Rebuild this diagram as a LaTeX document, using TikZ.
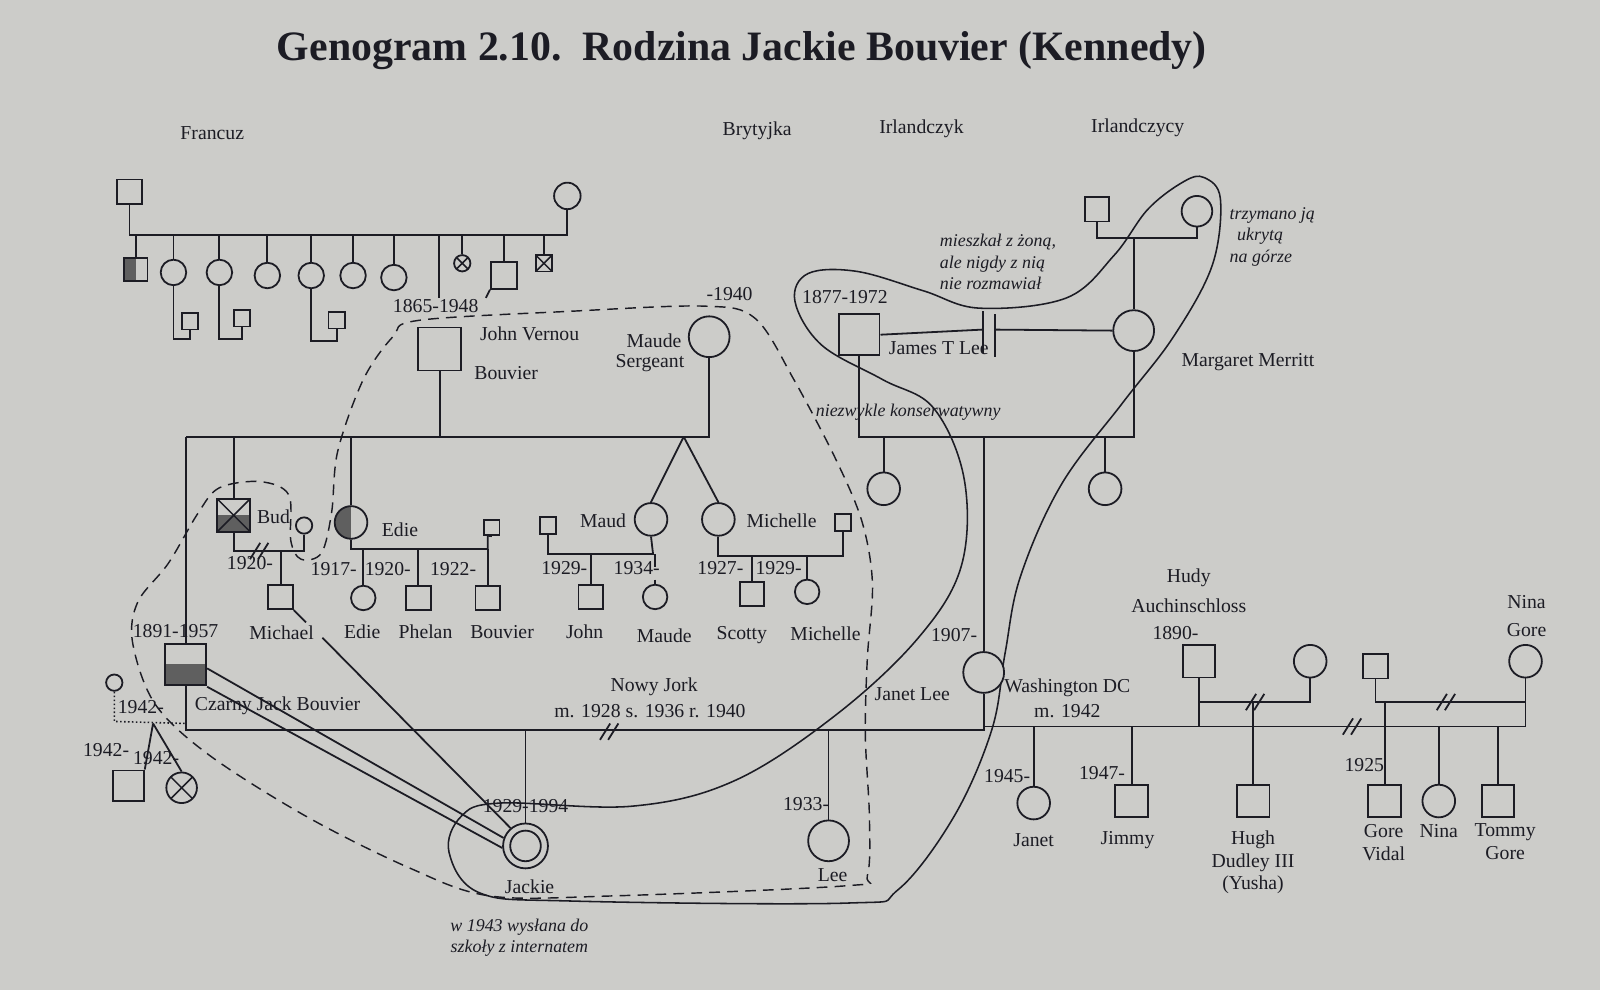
\documentclass[tikz,border=0pt]{standalone}
\usepackage{fontspec}
\setmainfont{Liberation Serif}
\usetikzlibrary{calc}
\definecolor{bgc}{RGB}{204,204,201}
\definecolor{ink}{RGB}{28,28,36}
\definecolor{shd}{RGB}{95,95,95}
\newcommand\divmark[2]{\draw[ink,line width=1.5pt] (#1-9,#2+8)--(#1+1,#2-8) (#1-1,#2+8)--(#1+9,#2-8);}
\tikzset{
  every node/.style={text=ink,font=\fontsize{16.5}{19}\selectfont},
  sq/.style={draw=ink,line width=1.5pt,minimum size=#1*0.3mm,inner sep=0,fill=bgc},
  ci/.style={draw=ink,line width=1.5pt,circle,minimum size=#1*0.3mm,inner sep=0,fill=bgc},
  xmark/.style={path picture={\draw[ink,line width=1.3pt] (path picture bounding box.south west)--(path picture bounding box.north east) (path picture bounding box.north west)--(path picture bounding box.south east);}},
  lefthalf/.style={path picture={\fill[shd] (path picture bounding box.south west) rectangle (path picture bounding box.north);}},
  bothalf/.style={path picture={\fill[shd] (path picture bounding box.south west) rectangle (path picture bounding box.east);}},
  botx/.style={path picture={\fill[shd] (path picture bounding box.south west) rectangle (path picture bounding box.east);
     \draw[ink,line width=1.3pt] (path picture bounding box.south west)--(path picture bounding box.north east) (path picture bounding box.north west)--(path picture bounding box.south east);}},
  ln/.style={draw=ink,line width=1.5pt},
  note/.style={font=\fontsize{15}{18}\selectfont\itshape,align=left},
}
\begin{document}
\begin{tikzpicture}[x=0.3mm,y=-0.3mm]
\fill[bgc] (0,0) rectangle (1568,970);
\useasboundingbox (0,0) rectangle (1568,970);

\node[font=\fontsize{35}{40}\selectfont\bfseries] (title) at (727,50) {Genogram 2.10.\ \ Rodzina Jackie Bouvier (Kennedy)};
\node (fr) at (208,130) {Francuz};
\node (br) at (742,128) {Brytyjka};
\node (ir) at (903,126) {Irlandczyk};
\node (irs) at (1115,125) {Irlandczycy};

% lasso curves
\draw[ink,line width=1.3pt] plot[smooth cycle,tension=0.6] coordinates {(1180,174) (1196,195) (1188,260) (1150,330) (1100,395) (1040,475) (1000,565) (985,640) (972,715) (935,800) (880,872) (830,885) (560,883) (470,875) (440,835) (452,800) (490,787) (620,790) (720,765) (820,700) (900,625) (942,555) (945,470) (915,400) (865,372) (805,338) (779,295) (792,268) (840,266) (905,285) (960,302) (1045,292) (1092,250) (1125,205) (1160,178)};
\draw[ink,line width=1.2pt,dashed,dash pattern=on 9pt off 6pt] plot[smooth cycle,tension=0.55] coordinates {(410,314) (560,305) (690,300) (740,312) (778,372) (820,452) (845,512) (855,572) (850,645) (848,720) (852,800) (850,858) (830,868) (600,878) (480,878) (400,850) (300,800) (205,740) (152,690) (130,630) (135,590) (165,552) (194,503) (215,478) (255,472) (283,485) (285,530) (295,548) (315,542) (325,502) (331,442) (356,372) (385,330)};

% top family
\node[sq=24] (gf) at (127,188) {};
\node[ci=26] (gm) at (556,192) {};
\coordinate (sl) at (127,230);
\draw[ln] (gf.south) -- (sl) -- (556,230) -- (gm.south);
\node[sq=23,lefthalf] (c1) at (133,264) {};
\node[ci=25] (c2) at (170,267) {};
\node[ci=25] (c3) at (215,267) {};
\node[ci=25] (c4) at (262,270) {};
\node[ci=25] (c5) at (305,270) {};
\node[ci=25] (c6) at (346,270) {};
\node[ci=25] (c7) at (386,272) {};
\node[ci=16,xmark] (c9) at (453,258) {};
\node[sq=26] (c10) at (494,270) {};
\node[sq=16,xmark] (c11) at (533,258) {};
\foreach \n in {c1,c2,c3,c4,c5,c6,c7,c9,c10,c11} \draw[ln] (\n.north) -- (\n.north |- sl);
\coordinate (jvtop) at (430,292);
\draw[ln] (430,230) -- (jvtop);
\draw[ln] (c10.south west) -- ++(-4,8);
\node[sq=16] (g1) at (186,315) {};
\node[sq=16] (g2) at (237,312) {};
\node[sq=16] (g3) at (330,314) {};
\draw[ln] (c2.south) |- (186,332) -- (g1.south);
\draw[ln] (c3.south) |- (237,332) -- (g2.south);
\draw[ln] (c5.south) |- (330,334) -- (g3.south);

% John Vernou & Maude Sergeant
\node (d1865) at (427,300) {1865-1948};
\node[sq=42] (jv) at (431,342) {};
\node (jvn) at (519,327) {John Vernou};
\node (jvb) at (496,366) {Bouvier};
\node[ci=40] (ms) at (695,330) {};
\node (d1940) at (715,288) {-1940};
\node (msn) at (641,334) {Maude};
\node (mss) at (637,356) {Sergeant};
\coordinate (cl) at (182,428);
\draw[ln] (jv.south) -- (431,428);
\draw[ln] (ms.south) -- (695,428) -- (cl);

% Bud
\node[sq=32,botx] (bud) at (229,505) {};
\draw[ln] (bud.north) -- (229,428);
\node (budn) at (268,506) {Bud};
\node[ci=16] (bw) at (298,515) {};
\draw[ln] (bud.south) |- (298,540) -- (bw.south);
\divmark{254}{540}
\node[sq=24] (mi) at (275,585) {};
\draw[ln] (mi.north) -- (275,540);
\node (d1920a) at (245,552) {1920-};
\node (min) at (276,620) {Michael};

% Edie
\node[ci=32,lefthalf] (ed) at (344,512) {};
\draw[ln] (ed.north) -- (344,428);
\node (edn) at (392,519) {Edie};
\node[sq=15] (eh) at (482,517) {};
\draw[ln] (ed.south) |- (478,538) -- (478,525) -- (eh.south);
\node[ci=24] (ed2) at (356,586) {};
\node[sq=24] (ph) at (410,586) {};
\node[sq=24] (bo) at (478,586) {};
\foreach \n in {ed2,ph,bo} \draw[ln] (\n.north) -- (\n.north |- 0,538);
\node at (327,558) {1917-};
\node at (380,558) {1920-};
\node at (444,558) {1922-};
\node (ed2n) at (355,619) {Edie};
\node (phn) at (417,619) {Phelan};
\node (bon) at (492,619) {Bouvier};

% twins Maud / Michelle
\node[ci=32] (ma) at (638,509) {};
\node[ci=32] (mc) at (704,509) {};
\coordinate (tw) at (670,428);
\draw[ln] (tw) -- (ma.north) (tw) -- (mc.north);
\node (man) at (591,510) {Maud};
\node[sq=16] (mah) at (537,515) {};
\draw[ln] (mah.south) |- (640,543) -- (ma.south);
\node[sq=24] (jo) at (579,585) {};
\node[ci=24] (md) at (642,585) {};
\draw[ln] (jo.north) -- (579,543);
\draw[ln] (642,543) -- (642,556) (642,568) -- (md.north);
\node at (553,557) {1929-};
\node at (624,557) {1934-};
\node (jon) at (573,619) {John};
\node (mdn) at (651,623) {Maude};
\node (mcn) at (766,510) {Michelle};
\node[sq=16] (mch) at (826,512) {};
\draw[ln] (mc.south) |- (826,545) -- (mch.south);
\node[sq=24] (sc) at (737,582) {};
\node[ci=24] (mc2) at (791,580) {};
\draw[ln] (sc.north) -- (737,545) (mc2.north) -- (791,545);
\node at (706,557) {1927-};
\node at (763,557) {1929-};
\node (scn) at (727,622) {Scotty};
\node (mc2n) at (809,621) {Michelle};

% Black Jack
\node[sq=40,bothalf] (bj) at (182,651) {};
\draw[ln] (cl) -- (bj.north);
\node (d1891) at (172,618) {1891-1957};
\node (bjn) at (272,692) {Czarny Jack Bouvier};

% Janet Lee & main marriage
\node[ci=40] (jl) at (964,659) {};
\node (d1907) at (935,622) {1907-};
\node (jln) at (894,680) {Janet Lee};
\coordinate (ml) at (182,715);
\draw[ln] (bj.south) -- (ml) -- (964,715) -- (jl.south);
\node (nj) at (641,673) {Nowy Jork};
\node (mdate) at (637,697) {m. 1928 s. 1936 r. 1940};
\divmark{597}{717}
\node[ci=44] (jk) at (515,829) {};
\node[ci=30] (jki) at (515,829) {};
\draw[ln] (jk.north) -- (515,715);
\node (d1929) at (515,790) {1929-1994};
\node (jkn) at (519,869) {Jackie};
\node[ci=40] (le) at (812,824) {};
\draw[ln] (le.north) -- (812,715);
\node (d1933) at (790,788) {1933-};
\node (len) at (816,858) {Lee};
\draw[ln] (203,655) -- (jk.160);
\draw[ln] (203,673) -- (jk.185);
\draw[ln] (mi.south east) -- ++(12,12);
\draw[ln] (316,625) -- (jk.130);

% affair
\node[ci=16] (af) at (112,669) {};
\draw[ink,line width=1.3pt,dotted] (af.south) -- (112,707) -- (182,709);
\node at (138,693) {1942-};
\coordinate (tw2) at (150,709);
\node[sq=30] (t1) at (126,770) {};
\node[ci=30,xmark] (t2) at (178,772) {};
\draw[ln] (tw2) -- (t1.north east) (tw2) -- (t2.north);
\node at (104,735) {1942-};
\node at (153,743) {1942-};

% Lee family
\node[sq=40] (jtl) at (842,328) {};
\node (d1877) at (828,291) {1877-1972};
\node (jtln) at (920,341) {James T Lee};
\node[ci=40] (mm) at (1111,324) {};
\node (mmn) at (1223,355) {Margaret Merritt};
\draw[ln] (jtl.east) -- (963,323) (975,323) -- (mm.west);
\draw[ln] (963,305) -- (963,346) (975,308) -- (975,350);
\draw[ln] (jtl.south) |- (1111,428) -- (mm.south);
\node[ci=32] (la) at (866,479) {};
\node[ci=32] (lb) at (1083,479) {};
\draw[ln] (la.north) -- (866,428) (lb.north) -- (1083,428) (jl.north) -- (964,428);
\node[note] (kons) at (890,404) {niezwykle konserwatywny};
\node[sq=24] (mp) at (1075,205) {};
\node[ci=30] (mmo) at (1173,207) {};
\draw[ln] (mp.south) |- (1173,233) -- (mmo.south);
\draw[ln] (1111,233) -- (mm.north);
\node[note,anchor=west] (n1) at (917,257) {mieszkał z żoną,\\ale nigdy z nią\\nie rozmawiał};
\node[note,anchor=west] (n2) at (1201,232) {trzymano ją\\\ \,ukrytą\\na górze};

% second marriages
\coordinate (mr) at (1495,712);
\draw[ln] (jl.south) -- (964,712) -- (mr);
\divmark{1325}{712}
\node[sq=32] (hd) at (1175,648) {};
\node (hdn1) at (1165,566) {Hudy};
\node (hdn2) at (1165,594) {Auchinschloss};
\node (hdn3) at (1152,620) {1890-};
\node[ci=32] (hw) at (1284,648) {};
\draw[ln] (hd.south) -- (1175,712) (1175,688) -- (1284,688) -- (hw.south);
\divmark{1230}{688}
\node[sq=24] (gs) at (1348,653) {};
\node[ci=32] (ng) at (1495,648) {};
\draw[ln] (gs.south) |- (1495,688) -- (ng.south);
\draw[ln] (ng.south) -- (mr);
\divmark{1417}{688}
\node (ngn1) at (1496,590) {Nina};
\node (ngn2) at (1496,617) {Gore};
\node (wdc) at (1046,674) {Washington DC};
\node (m42) at (1046,697) {m. 1942};
\node[ci=32] (ja) at (1013,787) {};
\node[sq=32] (ji) at (1109,785) {};
\node[sq=32] (hu) at (1228,785) {};
\node[sq=32] (gv) at (1357,785) {};
\node[ci=32] (ni) at (1410,785) {};
\node[sq=32] (to) at (1468,785) {};
\draw[ln] (ja.north) -- (1013,712) (ji.north) -- (1109,712) (hu.north) -- (1228,688) (gv.north) -- (1357,688) (ni.north) -- (1410,712) (to.north) -- (1468,712);
\node at (987,761) {1945-};
\node at (1080,758) {1947-};
\node at (1337,750) {1925};
\node at (1013,823) {Janet};
\node at (1105,823) {Jimmy};
\node[align=center] at (1228,845) {Hugh\\Dudley III\\(Yusha)};
\node[align=center] at (1356,826) {Gore\\Vidal};
\node at (1410,814) {Nina};
\node[align=center] at (1475,825) {Tommy\\Gore};
\node[note,align=center] (n3) at (509,919) {w 1943 wysłana do\\szkoły z internatem};
\end{tikzpicture}
\end{document}
